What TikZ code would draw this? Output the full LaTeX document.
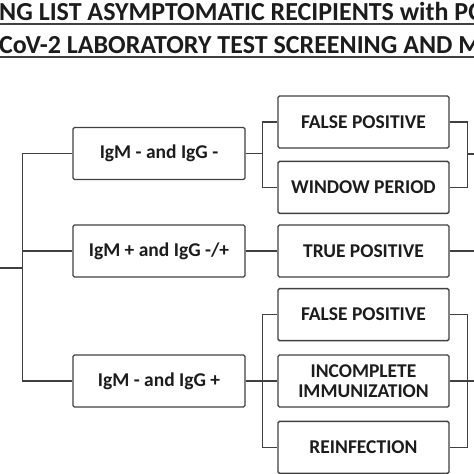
\documentclass[tikz,border=0pt]{standalone}
\usepackage{fontspec}
\setmainfont{Carlito}
\usetikzlibrary{positioning}
\definecolor{lineColor}{RGB}{64,64,64}
\definecolor{textColor}{RGB}{28,28,28}
\tikzstyle{flowChart} = [x = 1pt, y = -1pt]
\tikzstyle{testBox} = [draw=lineColor, line width=1.4pt, fill=white, rounded corners=1.5pt, minimum width=172pt, minimum height=52pt, inner sep=0pt, align=center, text=textColor, font=\fontsize{19.5}{20}\selectfont\bfseries]
\tikzstyle{linkLine} = [draw=lineColor, line width=1.4pt]
\tikzstyle{titleText} = [anchor=base west, inner sep=0pt, text=textColor, font=\fontsize{26}{28}\selectfont\bfseries]
\newcommand{\branchLink}[2]{\draw [linkLine] (#1.east) -- ++(17,0) |- (#2.west);}
\newcommand{\mergeLink}[2]{\draw [linkLine] (#1.east) -- ++(18,0) |- (#2.east);}
\begin{document}
\begin{tikzpicture}[flowChart]
  \useasboundingbox (0,0) rectangle (474,474);
  \clip (0,0) rectangle (474,474);
  % title, cut at both sides
  \node [titleText] (titleOne) at (-1,20) {NG LIST ASYMPTOMATIC RECIPIENTS with PC};
  \node [titleText] (titleTwo) at (-1,53) {CoV-2 LABORATORY TEST SCREENING AND M};
  \draw [lineColor, line width=1.5pt] (0,24) -- (474,24);
  \draw [lineColor, line width=2pt] (0,56.5) -- (474,56.5);

  % antibody results
  \node [testBox] (igNegNeg) at (159,153.5) {IgM - and IgG -};
  \node [testBox] (igPos) at (159,251) {IgM + and IgG -/+};
  \node [testBox] (igNegPos) at (159,381) {IgM - and IgG +};

  % interpretation
  \node [testBox, minimum width=171pt] (falsePosOne) at (363.5,122) {FALSE POSITIVE};
  \node [testBox, minimum width=171pt, below=12pt of falsePosOne] (windowPeriod) {WINDOW PERIOD};
  \node [testBox, minimum width=171pt] (truePos) at (363.5,251) {TRUE POSITIVE};
  \node [testBox, minimum width=171pt] (incomplete) at (363.5,381) {INCOMPLETE\\IMMUNIZATION};
  \node [testBox, minimum width=171pt, above=13pt of incomplete] (falsePosTwo) {FALSE POSITIVE};
  \node [testBox, minimum width=171pt, below=13pt of incomplete] (reinfection) {REINFECTION};

  \coordinate (rootIn) at (-5,268);
  \coordinate (trunkJoin) at (23,268);
  \coordinate (topJoin) at (467,154);
  \coordinate (topOut) at (480,154);
  \coordinate (midOut) at (480,251);
  \coordinate (lowOut) at (480,381);

  % left trunk
  \draw [linkLine] (rootIn) -- (trunkJoin);
  \draw [linkLine] (igNegNeg.west) -- ++(-50,0) |- (igNegPos.west);
  \draw [linkLine] (igPos.west) -- ++(-50,0);

  % forks
  \branchLink{igNegNeg}{falsePosOne}
  \branchLink{igNegNeg}{windowPeriod}
  \draw [linkLine] (igPos.east) -- (truePos.west);
  \branchLink{igNegPos}{falsePosTwo}
  \branchLink{igNegPos}{reinfection}
  \draw [linkLine] (igNegPos.east) -- (incomplete.west);

  % joins
  \mergeLink{falsePosOne}{windowPeriod}
  \draw [linkLine] (topJoin) -- (topOut);
  \draw [linkLine] (truePos.east) -- (midOut);
  \mergeLink{falsePosTwo}{reinfection}
  \draw [linkLine] (incomplete.east) -- (lowOut);
\end{tikzpicture}
\end{document}
